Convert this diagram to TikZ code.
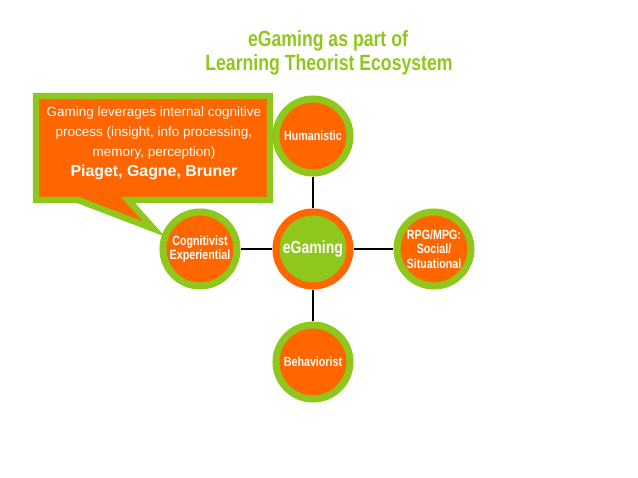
\documentclass[tikz,border=0pt]{standalone}
\usepackage{fontspec}
\setmainfont{Liberation Sans}
\newfontfamily\impactfont[FakeStretch=0.8]{Liberation Sans}
\usetikzlibrary{positioning}
\definecolor{gameorange}{RGB}{255,102,0}
\definecolor{gamegreen}{RGB}{143,199,28}

\begin{document}
\begin{tikzpicture}[
	theory/.style = {circle, fill=gameorange, draw=gamegreen, line width=5pt, minimum size=1.85cm, inner sep=0pt, align=center, text=white, font=\impactfont\bfseries\fontsize{9.5}{10.5}\selectfont},
	hub/.style = {theory, fill=gamegreen, draw=gameorange, font=\impactfont\bfseries\fontsize{12.5}{14}\selectfont},
	title/.style = {text=gamegreen, font=\impactfont\bfseries\fontsize{15.7}{18}\selectfont},
	bubble/.style = {fill=gameorange, draw=gamegreen, line width=4.5pt},
	link/.style = {draw=black, line width=1pt}]
	\useasboundingbox (0,0) rectangle (15.95,11.95);
	% title
	\node[title] (t1) at (8.2,10.92) {eGaming as part of};
	\node[title] (t2) at (8.225,10.34) {Learning Theorist Ecosystem};
	% speech bubble
	\coordinate (tip) at (3.85,6.225);
	\filldraw[bubble] (0.9,6.95) -- (1.95,6.95) -- (tip) -- (3.2,6.95) -- (6.75,6.95) -- (6.75,9.55) -- (0.9,9.55) -- cycle;
	\node[text=white, align=center, font=\fontsize{9.6}{14.2}\selectfont] (note) at (3.85,8.37) {Gaming leverages internal cognitive\\ process (insight, info processing,\\ memory, perception)\\ {\bfseries\fontsize{11.3}{14.2}\selectfont Piaget, Gagne, Bruner}};
	% theories
	\node[hub] (e) at (7.825,5.725) {eGaming};
	\node[theory] (h) [node distance = 2.825cm] [above of = e] {Humanistic};
	\node[theory] (b) [node distance = 2.825cm] [below of = e] {Behaviorist};
	\node[theory] (c) [node distance = 2.825cm] [left of = e] {Cognitivist\\ Experiential};
	\node[theory] (r) [node distance = 3.025cm] [right of = e] {RPG/MPG:\\ Social/\\ Situational};
	\path[link] (e) edge (h);
	\path[link] (e) edge (b);
	\path[link] (e) edge (c);
	\path[link] (e) edge (r);
\end{tikzpicture}
\end{document}
